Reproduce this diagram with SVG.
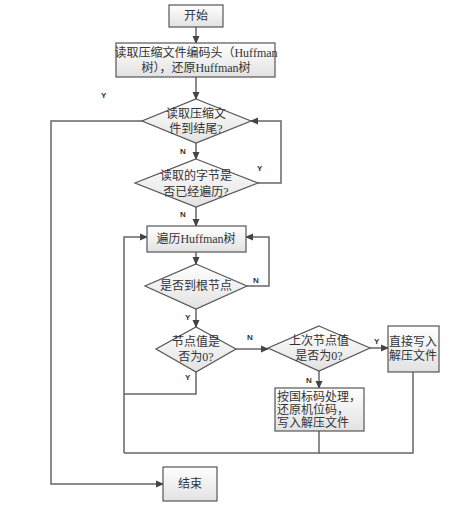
<svg xmlns="http://www.w3.org/2000/svg" width="474" height="506" viewBox="0 0 474 506">
<defs>
<linearGradient id="g" x1="0" y1="0" x2="0" y2="1">
<stop offset="0" stop-color="#ffffff"/>
<stop offset="1" stop-color="#e2e2e2"/>
</linearGradient>
<marker id="arr" markerWidth="8" markerHeight="8" refX="7" refY="4" orient="auto" markerUnits="userSpaceOnUse">
<path d="M0,0.5 L8,4 L0,7.5 Z" fill="#444"/>
</marker>
<style>
.n{fill:url(#g);stroke:#555;stroke-width:1.2}
.c{fill:none;stroke:#666;stroke-width:1.5}
.a{marker-end:url(#arr)}
.t{font-family:"Liberation Serif","Noto Sans CJK SC",serif;font-size:12px;fill:#333}
.m{text-anchor:middle}
.l{font-family:"Liberation Sans","DejaVu Sans",sans-serif;font-size:8px;font-weight:bold;fill:#333}
</style>
</defs>
<rect width="474" height="506" fill="#fff"/>
<g id="connectors">
<line class="c a" x1="196" y1="27" x2="196" y2="43"/>
<line class="c a" x1="196" y1="77" x2="196" y2="99"/>
<polyline class="c a" points="142,121 51,121 51,484 163,484"/>
<line class="c a" x1="196" y1="143" x2="196" y2="159"/>
<polyline class="c a" points="258,183 281,183 281,121 251,121"/>
<line class="c a" x1="196" y1="207" x2="196" y2="226"/>
<line class="c a" x1="196" y1="252" x2="196" y2="264"/>
<polyline class="c a" points="247,286 269,286 269,237 246,237"/>
<line class="c a" x1="196" y1="309" x2="196" y2="327"/>
<line class="c a" x1="236" y1="349" x2="268" y2="349"/>
<polyline class="c" points="196,372 196,394 124,394"/>
<polyline class="c a" points="124,453 124,237 147,237"/>
<line class="c a" x1="370" y1="348" x2="388" y2="348"/>
<line class="c a" x1="319" y1="371" x2="319" y2="388"/>
<polyline class="c" points="319,431 319,453 124,453"/>
<polyline class="c" points="413,372 413,453 319,453"/>
</g>
<g id="labels">
<text class="l" x="101" y="98">Y</text>
<text class="l" x="180" y="154">N</text>
<text class="l" x="257" y="171">Y</text>
<text class="l" x="180" y="217">N</text>
<text class="l" x="253" y="283">N</text>
<text class="l" x="185" y="320">Y</text>
<text class="l" x="247" y="340">N</text>
<text class="l" x="185" y="380">Y</text>
<text class="l" x="374" y="344">Y</text>
<text class="l" x="306" y="383">N</text>
</g>
<g id="start">
<rect class="n" x="169" y="5" width="54" height="22"/>
<text class="t m" x="196" y="20">开始</text>
</g>
<g id="readHeader">
<rect class="n" x="116" y="43" width="159" height="34"/>
<text class="t m" x="196" y="57">读取压缩文件编码头（Huffman</text>
<text class="t m" x="196" y="72">树），还原Huffman树</text>
</g>
<g id="eof">
<polygon class="n" points="196,99 251,121 196,143 142,121"/>
<text class="t m" x="196" y="118">读取压缩文</text>
<text class="t m" x="196" y="133">件到结尾?</text>
</g>
<g id="byteDone">
<polygon class="n" points="196,159 258,183 196,207 135,183"/>
<text class="t m" x="196" y="180">读取的字节是</text>
<text class="t m" x="196" y="196">否已经遍历?</text>
</g>
<g id="traverse">
<rect class="n" x="147" y="226" width="99" height="26"/>
<text class="t m" x="196" y="243">遍历Huffman树</text>
</g>
<g id="isRoot">
<polygon class="n" points="196,264 247,286 196,309 145,286"/>
<text class="t m" x="196" y="290">是否到根节点</text>
</g>
<g id="isZero">
<polygon class="n" points="196,327 236,349 196,372 156,349"/>
<text class="t m" x="196" y="346">节点值是</text>
<text class="t m" x="196" y="361">否为0?</text>
</g>
<g id="lastZero">
<polygon class="n" points="319,326 370,348 319,371 268,348"/>
<text class="t m" x="319" y="345">上次节点值</text>
<text class="t m" x="319" y="360">是否为0?</text>
</g>
<g id="writeDirect">
<rect class="n" x="388" y="326" width="51" height="46"/>
<text class="t m" x="413" y="346">直接写入</text>
<text class="t m" x="413" y="360">解压文件</text>
</g>
<g id="gbProcess">
<rect class="n" x="275" y="388" width="89" height="43"/>
<text class="t" x="277" y="401">按国标码处理，</text>
<text class="t" x="277" y="414">还原机位码，</text>
<text class="t" x="277" y="427">写入解压文件</text>
</g>
<g id="end">
<rect class="n" x="163" y="467" width="54" height="34"/>
<text class="t m" x="190" y="488">结束</text>
</g>
</svg>
